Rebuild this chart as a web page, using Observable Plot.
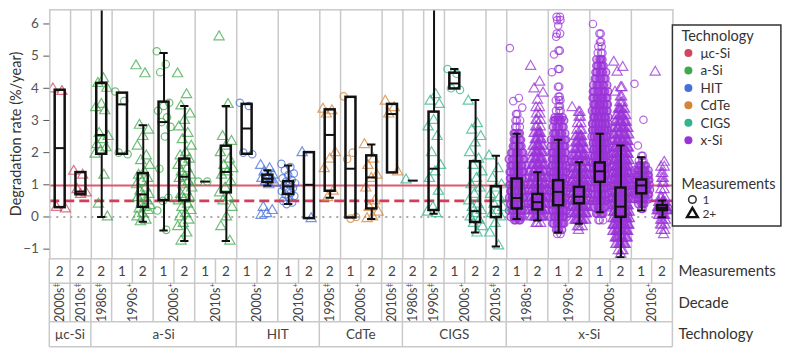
<!DOCTYPE html>
<html><head><meta charset="utf-8">
<script src="https://cdn.jsdelivr.net/npm/d3@7"></script>
<script src="https://cdn.jsdelivr.net/npm/@observablehq/plot@0.6"></script>
<style>body{margin:0;background:#fff;}</style>
</head><body><div id="chart"></div>
<script>
const FONT = "Lato, 'Open Sans', sans-serif";
const technologies = ["μc-Si", "a-Si", "HIT", "CdTe", "CIGS", "x-Si"];
const techColors = ["#d2455f", "#3faa4b", "#4470d8", "#d4853b", "#33b48e", "#9a33d8"];
const columnTech = ["μc-Si","μc-Si","a-Si","a-Si","a-Si","a-Si","a-Si","a-Si","a-Si","HIT","HIT","HIT","HIT","CdTe","CdTe","CdTe","CdTe","CIGS","CIGS","CIGS","CIGS","CIGS","x-Si","x-Si","x-Si","x-Si","x-Si","x-Si","x-Si","x-Si"];
const columnDecade = ["2000s‡","2010s‡","1980s‡","1990s+","1990s+","2000s+","2000s+","2010s+","2010s+","2000s+","2000s+","2010s+","2010s+","1990s‡","2000s+","2000s+","2010s‡","1980s‡","1990s‡","2000s+","2000s+","2010s‡","1980s+","1980s+","1990s+","1990s+","2000s+","2000s+","2010s+","2010s+"];
const columnMeas = ["2","2","2","1","2","1","2","1","2","1","2","1","2","2","1","2","2","2","2","1","2","2","1","2","1","2","1","2","1","2"];
const whiskerLow = [0.29,0.69,0.0,1.95,-0.15,-0.42,-0.75,1.1,-0.75,1.95,0.97,0.4,-0.05,0.6,-0.03,-0.06,1.37,1.13,0.1,3.98,-0.48,-0.92,-0.06,-0.11,-0.48,-0.21,0.15,-1.25,0.2,-0.01];
const boxQ1 = [0.29,0.69,1.95,1.95,0.3,0.51,0.5,1.1,0.75,1.95,1.07,0.7,-0.05,0.8,-0.03,0.25,1.37,1.13,0.2,3.98,-0.17,-0.02,0.25,0.22,0.35,0.41,1.08,-0.01,0.72,0.2];
const boxMedian = [2.14,0.79,2.55,3.5,0.7,2.95,1.25,1.1,1.4,2.75,1.19,0.95,1.0,2.55,1.5,1.23,3.2,1.13,1.5,4.15,0.18,0.32,0.59,0.46,0.78,0.63,1.42,0.32,0.98,0.28];
const boxQ3 = [3.94,1.38,4.15,3.85,1.35,3.57,1.8,1.1,2.2,3.5,1.3,1.1,2.0,3.33,3.72,1.9,3.5,1.13,3.26,4.47,1.72,0.94,1.18,0.7,1.13,0.92,1.68,0.9,1.15,0.35];
const whiskerHigh = [3.94,1.38,7.0,3.85,2.85,5.1,3.45,1.1,3.45,3.5,1.45,1.6,2.0,3.33,3.72,2.25,3.5,1.13,7.0,4.6,3.64,1.9,2.59,1.39,2.4,1.7,2.59,2.22,1.86,0.51];
const yTicks = [-1, 0, 1, 2, 3, 4, 5, 6];
const meanRate = 0.98, medianRate = 0.5, zeroRate = 0;
// points per column: plain value, or [value, count] for dense clusters
const points = [
 [3.98, 3.9, 0.3, 0.25],
 [1.42, 1.3, 0.85, 0.75, 0.7],
 [6.8, 4.3, 4.15, 4.0, 3.5, 3.4, 3.3, 2.6, 2.5, 2.4, 2.25, 2.15, 2.05, 1.95, 1.3, 0.4, 0.0],
 [3.9, 3.6, 2.0, 1.95],
 [4.7, 4.45, 2.85, 2.7, 2.5, 2.2, 1.9, 1.75, 1.6, 1.4, 1.3, 1.2, 1.1, 1.0, 0.9, 0.8, 0.7, 0.65, 0.6, 0.5, 0.4, 0.35, 0.3, 0.25, 0.2, 0.1, 0.0, -0.1, -0.15],
 [5.15, 4.75, 4.5, 3.55, 3.45, 3.3, 3.1, 2.95, 2.8, 2.5, 1.5, 0.6, 0.5, 0.2, -0.4],
 [4.45, 3.8, 3.45, 3.2, 3.0, 2.8, 2.6, 2.4, 2.2, 2.0, 1.9, 1.8, 1.7, 1.6, 1.5, 1.4, 1.3, 1.25, 1.2, 1.1, 1.0, 0.9, 0.8, 0.7, 0.6, 0.55, 0.5, 0.4, 0.3, 0.2, 0.1, 0.0, -0.1, -0.2, -0.3, -0.5, -0.75],
 [1.1, 1.1],
 [5.6, 3.5, 2.5, 2.35, 2.2, 2.0, 1.8, 1.6, 1.5, 1.4, 1.3, 1.1, 0.9, 0.75, 0.6, 0.5, 0.3, 0.0, -0.3, -0.75],
 [3.55, 3.45, 2.0, 1.95],
 [1.6, 1.5, 1.4, 1.3, 1.25, 1.2, 1.15, 1.1, 1.05, 1.0, 0.3, 0.2, 0.1, 0.05],
 [1.65, 1.55, 1.45, 1.35, 1.3, 1.2, 1.15, 1.1, 1.05, 1.0, 0.95, 0.9, 0.85, 0.8, 0.75, 0.7, 0.65, 0.6, 0.5, 0.45, 0.4],
 [2.0, -0.05],
 [3.35, 3.3, 3.2, 2.0, 1.8, 1.5, 0.8, 0.6],
 [3.75, 2.0, 1.8, 0.0, -0.05],
 [2.25, 1.8, 1.6, 1.3, 1.2, 0.9, 0.5, 0.3, 0.15, 0.0, -0.05],
 [3.6, 3.4, 3.2, 1.4],
 [1.15],
 [7.0, 3.8, 3.6, 3.5, 3.0, 2.8, 2.5, 2.0, 1.6, 1.4, 1.2, 0.8, 0.3, 0.15, 0.1],
 [4.6, 4.45, 4.0, 3.95],
 [3.6, 2.9, 2.7, 2.5, 2.3, 2.0, 1.8, 1.6, 1.4, 1.2, 1.0, 0.9, 0.7, 0.5, 0.4, 0.3, 0.2, 0.1, 0.0, -0.1, -0.2, -0.3, -0.5],
 [1.9, 1.5, 1.2, 1.0, 0.9, 0.7, 0.6, 0.4, 0.3, 0.2, 0.1, 0.0, -0.2, -0.5, -0.9],
 [5.25,3.7,3.6,3.4,[3.2,2],[3.0,3],[2.8,3],[2.6,4],[2.4,5],[2.2,6],[2.0,7],[1.8,8],[1.6,9],[1.4,10],[1.2,11],[1.0,12],[0.8,12],[0.6,12],[0.4,12],[0.2,10],[0.0,7],[-0.1,4]],
 [4.68,4.19,3.98,3.85,3.63,[3.4,2],[3.2,2],[3.0,3],[2.8,3],[2.6,4],[2.4,4],[2.2,5],[2.0,6],[1.8,6],[1.6,7],[1.4,8],[1.2,9],[1.0,10],[0.8,11],[0.6,11],[0.4,11],[0.2,10],[0.0,7],[-0.2,3]],
 [[6.22,2],[6.12,2],5.95,[5.7,2],5.6,[5.17,2],5.05,[4.6,2],4.5,[4.05,2],[3.74,2],[3.63,3],[3.45,2],[3.3,3],[3.1,4],[3.0,6],[2.8,6],[2.6,7],[2.4,8],[2.2,9],[2.0,10],[1.8,11],[1.6,12],[1.4,13],[1.2,14],[1.0,14],[0.8,14],[0.6,14],[0.4,13],[0.2,12],[0.0,10],[-0.2,7],[-0.4,4],[-0.53,2]],
 [3.4,[3.25,2],[3.1,2],[2.9,2],[2.7,3],[2.5,4],[2.3,5],[2.1,6],[1.9,7],[1.7,8],[1.5,9],[1.3,10],[1.1,11],[0.9,12],[0.7,12],[0.5,12],[0.3,11],[0.1,9],[-0.1,6],[-0.3,3],-0.42],
 [6.0,[5.7,2],[5.44,2],[5.3,2],[5.1,3],[4.9,4],[4.7,5],[4.5,6],[4.3,6],[4.1,7],[3.9,8],[3.7,9],[3.5,10],[3.3,11],[3.1,12],[2.9,13],[2.7,14],[2.5,14],[2.3,15],[2.1,15],[1.9,15],[1.7,15],[1.5,15],[1.3,15],[1.1,14],[0.9,13],[0.7,12],[0.5,10],[0.3,8],[0.1,5],[-0.1,3]],
 [4.81,4.65,4.5,[4.02,2],3.88,[3.73,2],[3.55,3],[3.35,4],[3.15,5],[2.95,6],[2.75,7],[2.55,8],[2.35,9],[2.15,10],[1.95,11],[1.75,12],[1.55,13],[1.35,14],[1.15,14],[0.95,15],[0.75,15],[0.55,15],[0.35,15],[0.15,14],[-0.05,13],[-0.25,11],[-0.45,9],[-0.65,7],[-0.85,5],[-1.05,3],[-1.25,2]],
 [4.14,3.02,2.22,[1.9,2],[1.75,3],[1.6,5],[1.45,7],[1.3,9],[1.15,10],[1.0,10],[0.85,10],[0.7,9],[0.55,7],[0.4,4],[0.25,2]],
 [4.5,1.7,[1.55,2],[1.35,2],[1.2,2],[1.05,2],[0.85,2],[0.6,3],[0.45,4],[0.3,6],[0.2,6],[0.05,4],[-0.1,3],[-0.25,3],[-0.42,2],-0.55]
];

// ---- build tables ----
const pts = [];
points.forEach((list, c) => {
  let i = 0;
  list.forEach(e => {
    const [v, n] = Array.isArray(e) ? e : [e, 1];
    for (let k = 0; k < n; k++, i++) {
      const wob = ((i * 0.618034) % 1) - 0.5;
      const off = n > 1 ? ((k + 0.5) / n - 0.5) * Math.min(0.8, 0.1 * n) + wob * 0.1 : wob * 0.7;
      pts.push({x: c + off, y: v, tech: columnTech[c], meas: columnMeas[c], dense: n >= 4});
    }
  });
});
const boxes = columnTech.map((t, i) => ({i, wl: whiskerLow[i], q1: boxQ1[i], med: boxMedian[i], q3: boxQ3[i], wh: whiskerHigh[i]}));
function groups(keyFn) {
  const out = [];
  columnTech.forEach((t, i) => {
    const k = keyFn(i);
    if (out.length && out[out.length - 1].key === k) out[out.length - 1].end = i;
    else out.push({key: k, start: i, end: i});
  });
  return out;
}
const decadeGroups = groups(i => columnTech[i] + "|" + columnDecade[i]).map(g => ({...g, label: columnDecade[g.start]}));
const techGroups = groups(i => columnTech[i]).map(g => ({...g, label: columnTech[g.start]}));

const GRID = "#c9c9c9", TXT = "#444";

function tableMark(index, scales, values, dims) {
  const x = scales.x;
  const g = d3.create("svg:g").attr("font-family", FONT).attr("fill", TXT).attr("text-anchor", "start");
  const top = dims.height - dims.marginBottom;
  const r2 = top + 25, r3 = top + 63.4, r4 = top + 88.4;
  const left = x(-0.5), right = x(29.5);
  const ln = (x1, y1, x2, y2) => g.append("line").attr("x1", x1).attr("y1", y1).attr("x2", x2).attr("y2", y2).attr("stroke", GRID).attr("stroke-width", 1.5);
  [r2, r3, r4].forEach(yy => ln(left, yy, right, yy));
  ln(left, top, left, r4); ln(right, top, right, r4);
  for (let c = 1; c < 30; c++) ln(x(c - 0.5), top, x(c - 0.5), r2);
  decadeGroups.slice(1).forEach(d => ln(x(d.start - 0.5), r2, x(d.start - 0.5), r3));
  techGroups.slice(1).forEach(d => ln(x(d.start - 0.5), r3, x(d.start - 0.5), r4));
  columnMeas.forEach((m, c) => g.append("text").attr("x", x(c)).attr("y", (top + r2) / 2).attr("dy", "0.35em").attr("text-anchor", "middle").attr("font-size", 13.5).text(m));
  decadeGroups.forEach(d => {
    const cx = (x(d.start - 0.5) + x(d.end + 0.5)) / 2, cy = (r2 + r3) / 2;
    const t = g.append("text").attr("transform", `translate(${cx},${cy}) rotate(-90)`).attr("text-anchor", "middle").attr("dy", "0.35em").attr("font-size", 12.5);
    t.append("tspan").text(d.label.slice(0, -1));
    t.append("tspan").attr("font-size", 8).attr("dy", "-0.6em").text(d.label.slice(-1));
  });
  techGroups.forEach(d => g.append("text").attr("x", (x(d.start - 0.5) + x(d.end + 0.5)) / 2).attr("y", (r3 + r4) / 2).attr("dy", "0.35em").attr("text-anchor", "middle").attr("font-size", 13.5).text(d.label));
  [["Measurements", (top + r2) / 2], ["Decade", (r2 + r3) / 2], ["Technology", (r3 + r4) / 2]].forEach(([s, yy]) =>
    g.append("text").attr("x", right + 6).attr("y", yy).attr("dy", "0.35em").attr("font-size", 15).attr("fill", "#333").text(s));
  g.append("text").attr("transform", `translate(16,134) rotate(-90)`).attr("text-anchor", "middle").attr("dy", "0.35em").attr("font-size", 14.5).attr("fill", "#333").text("Degradation rate (%/year)");
  return g.node();
}

function legendMark(index, scales, values, dims) {
  const g = d3.create("svg:g").attr("font-family", FONT).attr("fill", "#333").attr("text-anchor", "start");
  const x0 = dims.width - dims.marginRight;
  g.append("rect").attr("x", x0).attr("y", 25).attr("width", 108.5).attr("height", 201).attr("fill", "white").attr("stroke", "#333").attr("stroke-width", 1.5);
  g.append("text").attr("x", x0 + 9).attr("y", 36).attr("dy", "0.35em").attr("font-size", 14.5).text("Technology");
  technologies.forEach((t, i) => {
    const yy = 53 + i * 17.45;
    g.append("circle").attr("cx", x0 + 16).attr("cy", yy).attr("r", 4).attr("fill", techColors[i]);
    g.append("text").attr("x", x0 + 28).attr("y", yy).attr("dy", "0.35em").attr("font-size", 13.5).text(t);
  });
  g.append("text").attr("x", x0 + 9).attr("y", 184).attr("dy", "0.35em").attr("font-size", 14.5).text("Measurements");
  g.append("circle").attr("cx", x0 + 20).attr("cy", 199.5).attr("r", 3.8).attr("fill", "none").attr("stroke", "#333").attr("stroke-width", 1.5);
  g.append("text").attr("x", x0 + 30).attr("y", 199.5).attr("dy", "0.35em").attr("font-size", 12).text("1");
  g.append("path").attr("transform", "translate(" + (x0 + 20) + ",214)").attr("d", d3.symbol(d3.symbolTriangle, 50)()).attr("fill", "none").attr("stroke", "#111").attr("stroke-width", 2.4);
  g.append("text").attr("x", x0 + 30).attr("y", 214).attr("dy", "0.35em").attr("font-size", 12).text("2+");
  return g.node();
}

const capped = boxes.filter(d => d.wh > d.q3);
const cappedLow = boxes.filter(d => d.wl < d.q1);
const circ = pts.filter(d => d.meas === "1"), tri = pts.filter(d => d.meas !== "1");
const chart = Plot.plot({
  width: 800, height: 361,
  marginLeft: 49.3, marginRight: 127.6, marginTop: 9.3, marginBottom: 102.7,
  style: {fontFamily: FONT, background: "white"},
  x: {domain: [-0.5, 29.5], axis: null},
  y: {domain: [-1.30, 6.44], axis: null},
  color: {domain: technologies, range: techColors},
  marks: [
    Plot.ruleX(decadeGroups.slice(1), {x: d => d.start - 0.5, stroke: GRID, strokeWidth: 1.5}),
    Plot.ruleY([zeroRate], {stroke: "#aaa", strokeWidth: 2, strokeDasharray: "2,5"}),
    Plot.ruleY([meanRate], {stroke: "#e0586c", strokeWidth: 2}),
    Plot.ruleY([medianRate], {stroke: "#d63c58", strokeWidth: 2.6, strokeDasharray: "10,5"}),
    Plot.dot(circ.filter(d => d.dense), {x: "x", y: "y", fill: "tech", stroke: "tech", symbol: "circle", r: 3.7, strokeWidth: 1.3, fillOpacity: 0.35, strokeOpacity: 0.8, clip: true}),
    Plot.dot(circ.filter(d => !d.dense), {x: "x", y: "y", stroke: "tech", symbol: "circle", r: 3.7, strokeWidth: 1.2, strokeOpacity: 0.75, clip: true}),
    Plot.dot(tri.filter(d => d.dense), {x: "x", y: "y", fill: "tech", stroke: "tech", symbol: "triangle", r: 3.8, strokeWidth: 1.3, fillOpacity: 0.35, strokeOpacity: 0.8, clip: true}),
    Plot.dot(tri.filter(d => !d.dense), {x: "x", y: "y", stroke: "tech", symbol: "triangle", r: 3.8, strokeWidth: 1.2, strokeOpacity: 0.75, clip: true}),
    Plot.ruleX(boxes, {x: "i", y1: "q3", y2: "wh", stroke: "#111", strokeWidth: 2, clip: true}),
    Plot.ruleX(boxes, {x: "i", y1: "wl", y2: "q1", stroke: "#111", strokeWidth: 2, clip: true}),
    Plot.ruleY(capped, {y: "wh", x1: d => d.i - 0.2, x2: d => d.i + 0.2, stroke: "#111", strokeWidth: 2, clip: true}),
    Plot.ruleY(cappedLow, {y: "wl", x1: d => d.i - 0.2, x2: d => d.i + 0.2, stroke: "#111", strokeWidth: 2, clip: true}),
    Plot.rect(boxes, {x1: d => d.i - 0.24, x2: d => d.i + 0.24, y1: "q1", y2: "q3", stroke: "#111", strokeWidth: 2.5, fill: "none"}),
    Plot.ruleY(boxes, {y: "med", x1: d => d.i - 0.24, x2: d => d.i + 0.24, stroke: "#111", strokeWidth: 2}),
    Plot.frame({stroke: GRID, strokeWidth: 1.5}),
    Plot.axisY(yTicks, {tickSize: 6, tickPadding: 5, fontSize: 13.5, color: "#555", label: null}),
    tableMark,
    legendMark
  ]
});
document.getElementById("chart").appendChild(chart);
</script>
</body></html>
